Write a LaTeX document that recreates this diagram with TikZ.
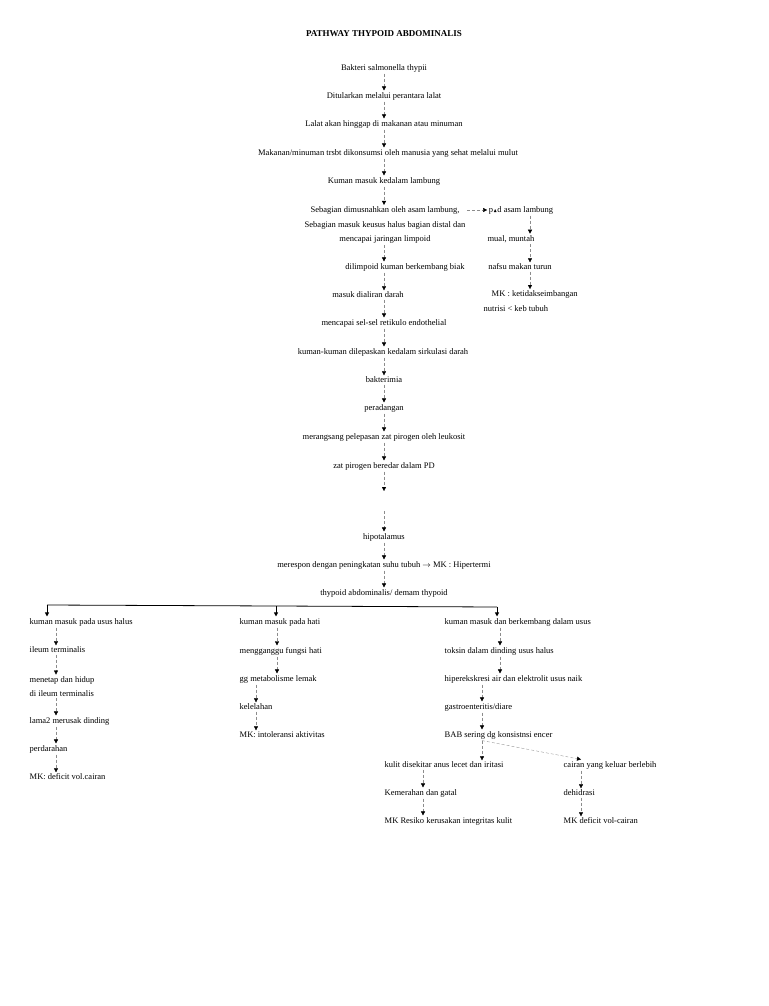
\documentclass[tikz,border=0pt]{standalone}
\usepackage{amssymb}
\usepackage{fontspec}
\setmainfont{Liberation Serif}
\usetikzlibrary{arrows.meta}

\begin{document}
\begin{tikzpicture}[
		x=1pt, y=-1pt,
		>={Triangle[length=4pt, width=4pt, color=black, fill=black]}, % Arrow style
		every node/.style={inner sep=1.5pt, font=\fontsize{8.5}{14.5}\selectfont},
		flow/.style={->, draw=black!45, densely dashed, line width=0.35pt},
		branch/.style={draw=black, line width=0.8pt},
		lnode/.style={anchor=west, align=left}
	]
	\useasboundingbox (0,0) rectangle (768,1006);

	% Title
	\node[font=\bfseries\fontsize{9}{11}\selectfont] (title) at (384,34) {PATHWAY THYPOID ABDOMINALIS};

	% Main column
	\node (bakteri) at (384,68) {Bakteri salmonella thypii};
	\node (lalat) at (384,96) {Ditularkan melalui perantara lalat};
	\node (hinggap) at (384,124) {Lalat akan hinggap di makanan atau minuman};
	\node (makan) at (388,153) {Makanan/minuman trsbt dikonsumsi oleh manusia yang sehat melalui mulut};
	\node (lambung) at (384,181) {Kuman masuk kedalam lambung};
	\node[align=center] (sebagian) at (385,225) {Sebagian dimusnahkan oleh asam lambung,\\ Sebagian masuk keusus halus bagian distal dan\\ mencapai jaringan limpoid};
	\node (limpoid) at (405,267) {dilimpoid kuman berkembang biak};
	\node (aliran) at (368,295) {masuk dialiran darah};
	\node (retikulo) at (384,323) {mencapai sel-sel retikulo endothelial};
	\node (sirkulasi) at (383,352) {kuman-kuman dilepaskan kedalam sirkulasi darah};
	\node (bakterimia) at (384,380) {bakterimia};
	\node (radang) at (384,408) {peradangan};
	\node (pirogen) at (384,437) {merangsang pelepasan zat pirogen oleh leukosit};
	\node (beredar) at (384,466) {zat pirogen beredar dalam PD};
	\coordinate (putusA) at (384,491);
	\coordinate (putusB) at (384,511);
	\node (hipo) at (384,537) {hipotalamus};
	\node (suhu) at (384,565) {merespon dengan peningkatan suhu tubuh $\rightarrow$ MK : Hipertermi};
	\node (thypoid) at (384,593) {thypoid abdominalis/ demam thypoid};

	% Right column (asam lambung)
	\node (ph) at (521,210) {p{\tiny$\blacktriangle$}d asam lambung};
	\node (mual) at (511,239) {mual, muntah};
	\node (nafsu) at (520,267) {nafsu makan turun};
	\node[anchor=north west, align=left] (nutrisi) at (482,289) {\hspace{8pt}MK : ketidakseimbangan\\ nutrisi < keb tubuh};

	% Spines for the vertical arrows
	\coordinate (sumbu) at (384,0);
	\coordinate (sumbuR) at (530,0);
	\coordinate (sumbu1) at (56,0);
	\coordinate (sumbu2a) at (277,0);
	\coordinate (sumbu2b) at (256,0);
	\coordinate (sumbu3a) at (500,0);
	\coordinate (sumbu3b) at (482,0);
	\coordinate (sumbu4) at (423,0);
	\coordinate (sumbu5) at (581,0);

	% Connect main column
	\draw[flow] (sumbu |- bakteri.south) -- (sumbu |- lalat.north);
	\draw[flow] (sumbu |- lalat.south) -- (sumbu |- hinggap.north);
	\draw[flow] (sumbu |- hinggap.south) -- (sumbu |- makan.north);
	\draw[flow] (sumbu |- makan.south) -- (sumbu |- lambung.north);
	\draw[flow] (sumbu |- lambung.south) -- (sumbu |- sebagian.north);
	\draw[flow] (sumbu |- sebagian.south) -- (sumbu |- limpoid.north);
	\draw[flow] (sumbu |- limpoid.south) -- (sumbu |- aliran.north);
	\draw[flow] (sumbu |- aliran.south) -- (sumbu |- retikulo.north);
	\draw[flow] (sumbu |- retikulo.south) -- (sumbu |- sirkulasi.north);
	\draw[flow] (sumbu |- sirkulasi.south) -- (sumbu |- bakterimia.north);
	\draw[flow] (sumbu |- bakterimia.south) -- (sumbu |- radang.north);
	\draw[flow] (sumbu |- radang.south) -- (sumbu |- pirogen.north);
	\draw[flow] (sumbu |- pirogen.south) -- (sumbu |- beredar.north);
	\draw[flow] (sumbu |- beredar.south) -- (putusA);
	\draw[flow] (putusB) -- (sumbu |- hipo.north);
	\draw[flow] (sumbu |- hipo.south) -- (sumbu |- suhu.north);
	\draw[flow] (sumbu |- suhu.south) -- (sumbu |- thypoid.north);

	% Connect right column
	\draw[flow] (sebagian.east |- ph.west) -- (ph.west);
	\draw[flow] (sumbuR |- ph.south) -- (sumbuR |- mual.north);
	\draw[flow] (sumbuR |- mual.south) -- (sumbuR |- nafsu.north);
	\draw[flow] (sumbuR |- nafsu.south) -- (sumbuR |- nutrisi.north);

	% Branches
	\node[lnode] (usus) at (28,622) {kuman masuk pada usus halus};
	\node[lnode] (ileum) at (28,650) {ileum terminalis};
	\node[lnode] (menetap) at (28,686.5) {menetap dan hidup\\ di ileum terminalis};
	\node[lnode] (dinding) at (28,721) {lama2 merusak dinding};
	\node[lnode] (darahan) at (28,749) {perdarahan};
	\node[lnode] (mkvol) at (28,777) {MK: deficit vol.cairan};

	\node[lnode] (hati) at (238,622) {kuman masuk pada hati};
	\node[lnode] (fungsi) at (238,651) {mengganggu fungsi hati};
	\node[lnode] (lemak) at (238,679) {gg metabolisme lemak};
	\node[lnode] (lelah) at (238,707) {kelelahan};
	\node[lnode] (mkakt) at (238,735) {MK: intoleransi aktivitas};

	\node[lnode] (usus2) at (443,622) {kuman masuk dan berkembang dalam usus};
	\node[lnode] (toksin) at (443,651) {toksin dalam dinding usus halus};
	\node[lnode] (elektrolit) at (443,679) {hiperekskresi air dan elektrolit usus naik};
	\node[lnode] (diare) at (443,707) {gastroenteritis/diare};
	\node[lnode] (bab) at (443,735) {BAB sering dg konsistnsi encer};

	\node[lnode] (kulit) at (383,765) {kulit disekitar anus lecet dan iritasi};
	\node[lnode] (gatal) at (383,793) {Kemerahan dan gatal};
	\node[lnode] (mkkulit) at (383,821) {MK Resiko kerusakan integritas kulit};
	\node[lnode] (cairan) at (562,765) {cairan yang keluar berlebih};
	\node[lnode] (dehidrasi) at (562,793) {dehidrasi};
	\node[lnode] (mkcairan) at (562,821) {MK deficit vol-cairan};

	% Branch line
	\coordinate (cabang1) at (47,605);
	\coordinate (cabang2) at (276,606);
	\coordinate (cabang3) at (497,607);
	\draw[branch] (cabang1) -- (cabang2) -- (cabang3);
	\draw[branch, ->] (cabang1) -- (cabang1 |- usus.north);
	\draw[branch, ->] (cabang2) -- (cabang2 |- hati.north);
	\draw[branch, ->] (cabang3) -- (cabang3 |- usus2.north);

	% Connect branch 1
	\draw[flow] (sumbu1 |- usus.south) -- (sumbu1 |- ileum.north);
	\draw[flow] (sumbu1 |- ileum.south) -- (sumbu1 |- menetap.north);
	\draw[flow] (sumbu1 |- menetap.south) -- (sumbu1 |- dinding.north);
	\draw[flow] (sumbu1 |- dinding.south) -- (sumbu1 |- darahan.north);
	\draw[flow] (sumbu1 |- darahan.south) -- (sumbu1 |- mkvol.north);

	% Connect branch 2
	\draw[flow] (sumbu2a |- hati.south) -- (sumbu2a |- fungsi.north);
	\draw[flow] (sumbu2a |- fungsi.south) -- (sumbu2a |- lemak.north);
	\draw[flow] (sumbu2b |- lemak.south) -- (sumbu2b |- lelah.north);
	\draw[flow] (sumbu2b |- lelah.south) -- (sumbu2b |- mkakt.north);

	% Connect branch 3
	\draw[flow] (sumbu3a |- usus2.south) -- (sumbu3a |- toksin.north);
	\draw[flow] (sumbu3a |- toksin.south) -- (sumbu3a |- elektrolit.north);
	\draw[flow] (sumbu3b |- elektrolit.south) -- (sumbu3b |- diare.north);
	\draw[flow] (sumbu3b |- diare.south) -- (sumbu3b |- bab.north);
	\draw[flow] (sumbu3b |- bab.south) -- (sumbu3b |- kulit.north);
	\draw[flow] (sumbu3b |- bab.south) -- (sumbu5 |- cairan.north);

	% Connect sub-branches
	\draw[flow] (sumbu4 |- kulit.south) -- (sumbu4 |- gatal.north);
	\draw[flow] (sumbu4 |- gatal.south) -- (sumbu4 |- mkkulit.north);
	\draw[flow] (sumbu5 |- cairan.south) -- (sumbu5 |- dehidrasi.north);
	\draw[flow] (sumbu5 |- dehidrasi.south) -- (sumbu5 |- mkcairan.north);

\end{tikzpicture}
\end{document}
